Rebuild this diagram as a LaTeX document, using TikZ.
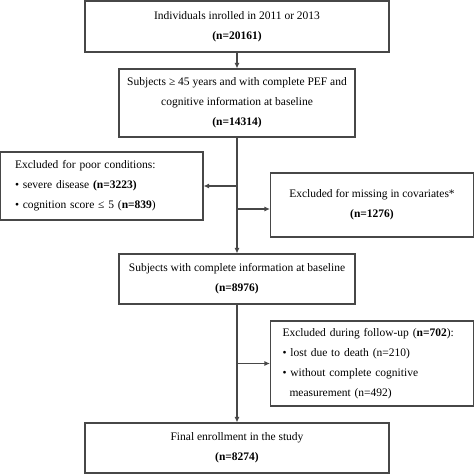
\documentclass[tikz,border=0pt]{standalone}
\usepackage{fontspec}
\setmainfont{Liberation Serif}
\usetikzlibrary{arrows.meta}
\tikzset{
  box/.style={draw=black!72, line width=1.1pt, rectangle, align=center, inner sep=0pt,
    font=\fontsize{11.5}{20}\selectfont},
  lbox/.style={box, align=left},
  conn/.style={draw=black!72, line width=1.1pt},
  arr/.style={conn, -{Latex[length=5.5pt,width=5pt]}}
}
\begin{document}
\begin{tikzpicture}[x=1pt,y=-1pt]
\useasboundingbox (0,0) rectangle (474,474);
\node[box, minimum width=304pt, minimum height=51pt] (b1) at (237,26.5)
  {Individuals inrolled in 2011 or 2013\\\textbf{(n=20161)}};
\node[box, minimum width=236pt, minimum height=68pt] (b2) at (237,103)
  {Subjects ≥ 45 years and with complete PEF and\\cognitive information at baseline\\\textbf{(n=14314)}};
\node[lbox, inner xsep=15pt, text width=173pt, minimum height=68pt] (ex1) at (101.5,186)
  {Excluded for poor conditions:\\• severe disease \textbf{(n=3223)}\\• cognition score ≤ 5 (\textbf{n=839})};
\node[box, minimum width=203pt, minimum height=64pt] (ex2) at (372,205)
  {Excluded for missing in covariates*\\\textbf{(n=1276)}};
\node[box, minimum width=236pt, minimum height=50pt] (b3) at (237,279)
  {Subjects with complete information at baseline\\\textbf{(n=8976)}};
\node[lbox, inner xsep=12pt, text width=179pt, minimum height=85pt] (ex3) at (372,363.5)
  {Excluded during follow-up (\textbf{n=702}):\\• lost due to death (n=210)\\• without complete cognitive\\\hspace*{7pt}measurement (n=492)};
\node[box, minimum width=304pt, minimum height=50pt] (b4) at (237,448)
  {Final enrollment in the study\\\textbf{(n=8274)}};
\coordinate (j1) at (b2.south |- ex1.east);
\coordinate (j2) at (237,209);
\coordinate (j3) at (b3.south |- ex3.west);
\draw[arr] (b1.south) -- (b2.north);
\draw[arr] (b2.south) -- (b3.north);
\draw[arr] (j1) -- (ex1.east);
\draw[arr] (j2) -- (ex2.west |- j2);
\draw[arr] (b3.south) -- (b4.north);
\draw[arr] (j3) -- (ex3.west);
\end{tikzpicture}
\end{document}
